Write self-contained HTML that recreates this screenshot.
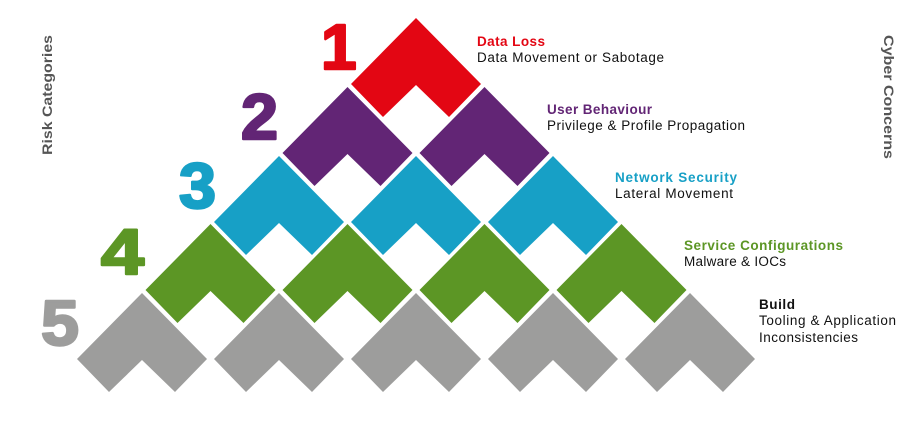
<!DOCTYPE html>
<html><head><meta charset="utf-8"><style>
html,body{margin:0;padding:0;background:#fff;width:907px;height:425px;overflow:hidden}
svg{display:block;font-family:"Liberation Sans",sans-serif}
</style></head><body>
<svg width="907" height="425" viewBox="0 0 907 425">
<defs>
<polygon id="c" points="0,0 65,66 33,99 0,67 -33,99 -65,66"/>
</defs>
<g fill="#e30613"><use href="#c" x="416" y="18"/></g>
<g fill="#622575"><use href="#c" x="347.5" y="87"/><use href="#c" x="484.5" y="87"/></g>
<g fill="#17a0c6"><use href="#c" x="279" y="156"/><use href="#c" x="416" y="156"/><use href="#c" x="553" y="156"/></g>
<g fill="#5c9625"><use href="#c" x="210.5" y="224"/><use href="#c" x="347.5" y="224"/><use href="#c" x="484.5" y="224"/><use href="#c" x="621.5" y="224"/></g>
<g fill="#9d9d9c"><use href="#c" x="142" y="293"/><use href="#c" x="279" y="293"/><use href="#c" x="416" y="293"/><use href="#c" x="553" y="293"/><use href="#c" x="690" y="293"/></g>
<g font-weight="bold" font-size="64" stroke-width="2.5" stroke-linejoin="round">
<text x="321" y="69" fill="#e30613" stroke="#e30613">1</text>
<text x="241" y="139" fill="#622575" stroke="#622575" textLength="37" lengthAdjust="spacingAndGlyphs">2</text>
<text x="179" y="208" fill="#17a0c6" stroke="#17a0c6" textLength="37" lengthAdjust="spacingAndGlyphs">3</text>
<text x="101" y="274" fill="#5c9625" stroke="#5c9625" textLength="43" lengthAdjust="spacingAndGlyphs">4</text>
<text x="41" y="345" fill="#9d9d9c" stroke="#9d9d9c" textLength="38" lengthAdjust="spacingAndGlyphs">5</text>
</g>
<text transform="translate(52,95) rotate(-90)" text-anchor="middle" font-size="14" font-weight="bold" fill="#555" textLength="120" lengthAdjust="spacingAndGlyphs">Risk Categories</text>
<text transform="translate(884,97) rotate(90)" text-anchor="middle" font-size="14" font-weight="bold" fill="#555" textLength="124" lengthAdjust="spacingAndGlyphs">Cyber Concerns</text>
<g font-size="13.5" lengthAdjust="spacingAndGlyphs">
<text x="477" y="46" font-weight="bold" fill="#e30613" textLength="68">Data Loss</text>
<text x="477" y="62" fill="#111" textLength="187">Data Movement or Sabotage</text>
<text x="547" y="114" font-weight="bold" fill="#622575" textLength="105">User Behaviour</text>
<text x="547" y="130" fill="#111" textLength="198">Privilege &amp; Profile Propagation</text>
<text x="615" y="182" font-weight="bold" fill="#17a0c6" textLength="122">Network Security</text>
<text x="615" y="198" fill="#111" textLength="118">Lateral Movement</text>
<text x="684" y="250" font-weight="bold" fill="#5c9625" textLength="159">Service Configurations</text>
<text x="684" y="266" fill="#111" textLength="102">Malware &amp; IOCs</text>
<text x="759" y="309" font-weight="bold" fill="#111" textLength="36">Build</text>
<text x="759" y="325" fill="#111" textLength="137">Tooling &amp; Application</text>
<text x="759" y="342" fill="#111" textLength="99">Inconsistencies</text>
</g>
</svg>
</body></html>
